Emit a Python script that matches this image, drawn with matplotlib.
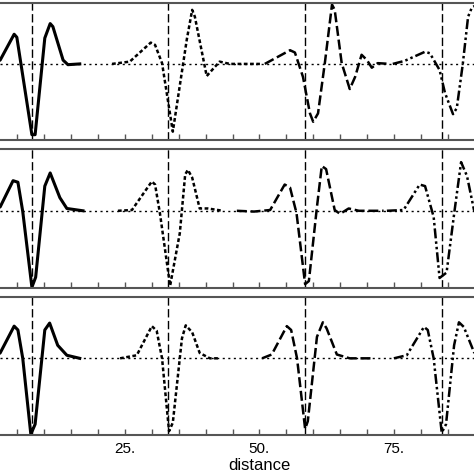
import matplotlib.pyplot as plt

plt.rcParams['font.family'] = ['Liberation Sans', 'DejaVu Sans']

# wavelet centres (vertical dashed lines)
centers = [7.7, 33.0, 58.5, 83.9]
tick_labels = {25: '25.', 50: '50.', 75: '75.'}

# panel 1
p1_solid_x = [0.0, 1.8, 4.4, 4.9, 7.7, 8.3, 10.1, 11.1, 11.6, 13.5, 14.4, 16.6]
p1_solid_y = [0.0, 0.05, 0.39, 0.35, -0.93, -0.93, 0.34, 0.53, 0.49, 0.05, -0.01, 0.0]
p1_dot_x = [22.6, 25.9, 29.8, 30.6, 31.9, 33.9, 36.5, 37.5, 38.0, 40.2, 41.2, 42.6, 44.5, 50.1]
p1_dot_y = [0.0, 0.03, 0.28, 0.25, 0.01, -0.89, 0.32, 0.71, 0.62, -0.16, -0.08, 0.03, 0.0, 0.0]
p1_dash_x = [51.0, 55.7, 56.6, 58.1, 59.4, 60.0, 60.9, 62.2, 63.5, 64.0, 65.3, 66.8, 67.8,
             69.0, 70.0, 70.9, 72.0, 74.3]
p1_dash_y = [0.0, 0.18, 0.15, -0.17, -0.65, -0.76, -0.65, 0.03, 0.78, 0.71, 0.01, -0.33, -0.17,
             0.12, 0.05, -0.05, 0.01, 0.0]
p1_dd_x = [74.8, 77.0, 80.8, 81.7, 83.5, 84.5, 86.0, 86.7, 87.8, 88.8, 89.5, 90.5]
p1_dd_y = [0.0, 0.04, 0.16, 0.14, -0.08, -0.38, -0.66, -0.58, -0.01, 0.62, 0.74, 0.78]

# panel 2
p2_solid_x = [0.0, 1.8, 4.2, 5.1, 6.0, 7.7, 8.4, 10.1, 11.1, 12.9, 14.2, 17.2]
p2_solid_y = [0.0, 0.05, 0.39, 0.37, -0.01, -0.99, -0.86, 0.32, 0.49, 0.17, 0.03, 0.0]
p2_dot_x = [23.7, 26.3, 30.0, 30.6, 31.5, 33.4, 35.2, 36.2, 36.7, 37.5, 38.9, 40.4, 43.2]
p2_dot_y = [0.0, 0.01, 0.38, 0.34, -0.03, -0.97, -0.29, 0.47, 0.53, 0.43, 0.03, 0.03, 0.0]
p2_dash_x = [45.8, 49.0, 52.0, 54.7, 55.7, 56.9, 58.5, 59.2, 60.7, 61.6, 62.4, 64.0, 65.0,
             66.6, 68.5, 73.1]
p2_dash_y = [0.0, -0.01, 0.01, 0.34, 0.30, -0.03, -0.95, -0.91, 0.05, 0.58, 0.54, 0.01, -0.04,
             0.03, 0.0, 0.0]
p2_dd_x = [73.7, 76.8, 79.8, 80.8, 82.4, 83.5, 84.8, 86.3, 87.5, 88.6, 89.9, 91.0]
p2_dd_y = [0.0, 0.01, 0.34, 0.32, -0.08, -0.87, -0.80, 0.01, 0.63, 0.45, 0.01, -0.05]

# panel 3
p3_solid_x = [0.0, 1.8, 4.4, 5.1, 6.0, 7.5, 8.3, 10.1, 11.0, 12.5, 14.2, 16.6]
p3_solid_y = [0.0, 0.07, 0.42, 0.37, 0.0, -0.99, -0.86, 0.37, 0.46, 0.17, 0.04, 0.0]
p3_dot_x = [24.1, 27.2, 30.0, 30.9, 31.9, 33.2, 33.9, 35.6, 36.3, 37.5, 38.9, 40.8, 42.7]
p3_dot_y = [0.0, 0.04, 0.42, 0.36, 0.0, -0.95, -0.84, 0.26, 0.43, 0.34, 0.07, 0.0, 0.0]
p3_dash_x = [50.5, 52.3, 55.1, 55.9, 57.0, 58.5, 59.0, 60.7, 61.8, 62.5, 64.4, 66.8, 71.3]
p3_dash_y = [0.0, 0.05, 0.42, 0.37, 0.0, -0.92, -0.82, 0.28, 0.47, 0.39, 0.05, 0.0, 0.0]
p3_dd_x = [75.0, 77.4, 80.6, 81.3, 82.4, 83.9, 84.7, 86.2, 87.1, 88.0, 89.9, 91.0]
p3_dd_y = [0.0, 0.04, 0.41, 0.37, 0.0, -0.97, -0.86, 0.17, 0.47, 0.41, 0.08, 0.01]

panels = [
    [(p1_solid_x, p1_solid_y), (p1_dot_x, p1_dot_y), (p1_dash_x, p1_dash_y), (p1_dd_x, p1_dd_y)],
    [(p2_solid_x, p2_solid_y), (p2_dot_x, p2_dot_y), (p2_dash_x, p2_dash_y), (p2_dd_x, p2_dd_y)],
    [(p3_solid_x, p3_solid_y), (p3_dot_x, p3_dot_y), (p3_dash_x, p3_dash_y), (p3_dd_x, p3_dd_y)],
]
styles = ['-', (0, (1.5, 1.0)), (0, (4, 1.5)), (0, (4, 1.2, 1, 1.2, 1, 1.2))]
widths = [2.2, 1.8, 1.8, 1.8]

# axes boxes in figure fraction (the original figure is cropped at left/right)
boxes = [[0, 0.7046, 1, 0.289], [0, 0.3924, 1, 0.2932], [0, 0.0823, 1, 0.2911]]

fig = plt.figure(figsize=(4.74, 4.74), dpi=100)
for i, (box, segs) in enumerate(zip(boxes, panels)):
    ax = fig.add_axes(box)
    for (xs, ys), ls, lw in zip(segs, styles, widths):
        ax.plot(xs, ys, color='black', linestyle=ls, linewidth=lw,
                solid_joinstyle='round', dash_joinstyle='round')
    ax.axhline(0, color='black', linestyle=(0, (1.5, 2.5)), linewidth=1.0)
    for c in centers:
        ax.axvline(c, color='black', linestyle=(0, (6, 2.5)), linewidth=1.0)
    ax.set_xlim(1.77, 89.9)
    ax.set_ylim(-1.0, 0.8)
    ax.spines['left'].set_visible(False)
    ax.spines['right'].set_visible(False)
    for s in ['top', 'bottom']:
        ax.spines[s].set_color('#555555')
        ax.spines[s].set_linewidth(1.5)
    ax.set_yticks([])
    ticks = list(range(5, 90, 5))
    ax.set_xticks(ticks)
    ax.tick_params(axis='x', direction='in', length=4, width=1, color='#555555',
                   labelsize=11, pad=5)
    if i < 2:
        ax.set_xticklabels([])
    else:
        ax.set_xticklabels([tick_labels.get(t, '') for t in ticks])
        ax.set_xlabel('distance', fontsize=12)
        ax.xaxis.set_label_coords(0.547, -0.165)

fig.savefig('out.png', dpi=100)
